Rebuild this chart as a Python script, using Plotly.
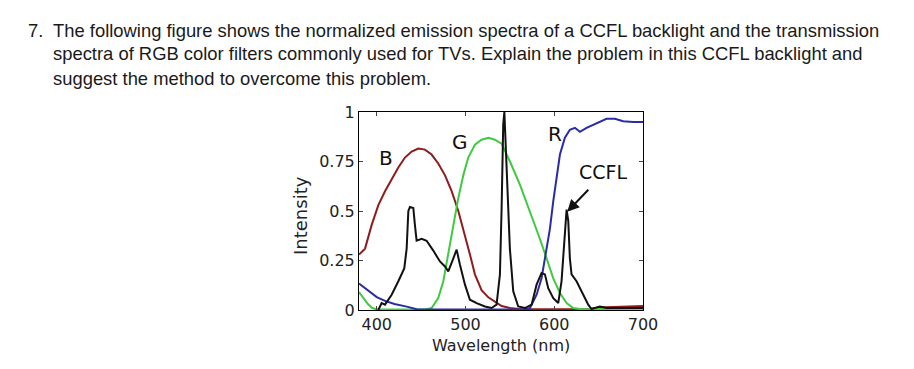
import plotly.graph_objects as go

# ---------------- data ----------------
b_filter_x = [380, 386.8, 394.3, 401.8, 409.3, 416.8, 424.3, 431.8, 439.3, 446.8, 454.3, 461.8,
              469.3, 476.9, 484.4, 491.9, 499.4, 505, 510.6, 518.1, 525.7, 533.2, 540.7, 550,
              560, 580, 600, 620, 640, 650, 660, 680, 700]
b_filter_y = [0.28, 0.31, 0.43, 0.53, 0.60, 0.66, 0.72, 0.77, 0.80, 0.815, 0.81, 0.785,
              0.74, 0.68, 0.60, 0.50, 0.38, 0.28, 0.18, 0.10, 0.064, 0.04, 0.02, 0.01,
              0.005, 0.004, 0.004, 0.004, 0.005, 0.012, 0.014, 0.016, 0.02]

g_filter_x = [380, 385, 390, 395, 400, 440, 455, 461.8, 469.3, 475, 480.6, 486.2, 491.9, 497.5,
              503.1, 510.6, 518.1, 525.7, 533.2, 540.7, 550.1, 561.3, 572.6, 583.8, 591.4,
              598.9, 606.4, 613.9, 621.4, 630, 650, 700]
g_filter_y = [0.09, 0.06, 0.03, 0.01, 0.003, 0.002, 0.003, 0.01, 0.06, 0.145, 0.28, 0.43, 0.566,
              0.68, 0.77, 0.835, 0.86, 0.87, 0.86, 0.84, 0.75, 0.633, 0.50, 0.36, 0.26,
              0.16, 0.086, 0.035, 0.01, 0.004, 0.005, 0.006]

r_filter_x = [380, 390, 400, 410, 420, 433.8, 445, 500, 565, 572.6, 580.1, 585.7, 591.4, 595.1,
              598.9, 602.6, 606.4, 612, 617.6, 623.3, 628.9, 636.4, 647.7, 658.9, 668.3,
              677.7, 689, 700]
r_filter_y = [0.134, 0.10, 0.065, 0.045, 0.03, 0.017, 0.004, 0.002, 0.002, 0.01, 0.077, 0.16,
              0.30, 0.41, 0.55, 0.68, 0.785, 0.87, 0.91, 0.92, 0.90, 0.92, 0.944, 0.966,
              0.966, 0.953, 0.95, 0.95]

ccfl_x = [401.8, 405.5, 409.3, 416.8, 424.3, 431, 433.7, 435.6, 437.4, 441.2, 443, 444.9,
          450.6, 456.2, 463.7, 471.2, 476.9, 480.6, 486.2, 490, 493.7, 499.4, 505, 512.5,
          521.9, 529.4, 535, 538.8, 540.7, 542.5, 543.8, 546.3, 550, 553.8, 559.4, 567,
          574.5, 580.1, 585.7, 589.5, 593.2, 598.9, 604.5, 608.2, 612, 613.9, 615.8,
          617.6, 619.5, 625.1, 632.7, 638.3, 642, 651.4, 659, 680, 700]
ccfl_y = [0.0, 0.035, 0.027, 0.077, 0.145, 0.21, 0.31, 0.50, 0.52, 0.515, 0.43, 0.35,
          0.36, 0.35, 0.30, 0.245, 0.22, 0.195, 0.26, 0.305, 0.23, 0.128, 0.052, 0.035,
          0.018, 0.01, 0.027, 0.18, 0.515, 0.936, 1.0, 0.68, 0.31, 0.094, 0.018, 0.01,
          0.027, 0.128, 0.187, 0.18, 0.11, 0.06, 0.035, 0.145, 0.38, 0.507, 0.45,
          0.26, 0.18, 0.145, 0.077, 0.027, 0.005, 0.018, 0.01, 0.01, 0.01]

x_ticks = [400, 500, 600, 700]
y_ticks = [0, 0.25, 0.5, 0.75, 1]
y_tick_labels = ["0", "0.25", "0.5", "0.75", "1"]

question_number = "7."
question_lines = [
    "The following figure shows the normalized emission spectra of a CCFL backlight and the transmission",
    "spectra of RGB color filters commonly used for TVs. Explain the problem in this CCFL backlight and",
    "suggest the method to overcome this problem.",
]

# ---------------- figure ----------------
W, H = 914, 369
L, R, T, B = 359, 271, 112, 59
PW, PH = W - L - R, H - T - B

fig = go.Figure()
fig.add_trace(go.Scatter(x=b_filter_x, y=b_filter_y, mode="lines",
                         line=dict(color="#8e1c1c", width=2), hoverinfo="skip"))
fig.add_trace(go.Scatter(x=g_filter_x, y=g_filter_y, mode="lines",
                         line=dict(color="#3fca3f", width=2), hoverinfo="skip"))
fig.add_trace(go.Scatter(x=r_filter_x, y=r_filter_y, mode="lines",
                         line=dict(color="#2b2ba6", width=2), hoverinfo="skip"))
fig.add_trace(go.Scatter(x=ccfl_x, y=ccfl_y, mode="lines",
                         line=dict(color="#111111", width=2), hoverinfo="skip"))


def px_x(p):
    return (p - L) / PW


def px_y(p):
    return (H - B - p) / PH


txt_font = dict(family="Liberation Sans, Arial, sans-serif", size=18.4, color="#1a1a1a")
fig.add_annotation(xref="paper", yref="paper", x=px_x(26), y=px_y(30), xanchor="left",
                   yanchor="middle", text=question_number, showarrow=False, font=txt_font)
for i, line in enumerate(question_lines):
    fig.add_annotation(xref="paper", yref="paper", x=px_x(51), y=px_y(30 + 24 * i),
                       xanchor="left", yanchor="middle", text=line, showarrow=False,
                       font=txt_font)

fig_family = "DejaVu Sans, Arial, sans-serif"
lab_font = dict(family=fig_family, size=20, color="#111111")
fig.add_annotation(x=410.4, y=0.77, text="B", showarrow=False, font=lab_font)
fig.add_annotation(x=493.7, y=0.85, text="G", showarrow=False, font=lab_font)
fig.add_annotation(x=600.7, y=0.89, text="R", showarrow=False, font=lab_font)
fig.add_annotation(x=654.4, y=0.695, text="CCFL", showarrow=False,
                   font=dict(family=fig_family, size=19, color="#111111"))
fig.add_annotation(x=614.6, y=0.496, ax=640, ay=0.615, axref="x", ayref="y", text="",
                   showarrow=True, arrowhead=2, arrowsize=1.2, arrowwidth=2, arrowcolor="#111111")

axis_font = dict(family=fig_family, size=16, color="#222222")
# axis titles placed as annotations for exact position
fig.add_annotation(xref="paper", yref="paper", x=px_x(501), y=px_y(345), text="Wavelength (nm)",
                   showarrow=False, font=axis_font, xanchor="center", yanchor="middle")
fig.add_annotation(xref="paper", yref="paper", x=px_x(300), y=px_y(216), text="Intensity",
                   showarrow=False, textangle=-90, xanchor="center", yanchor="middle",
                   font=dict(family=fig_family, size=18, color="#222222"))

fig.update_xaxes(range=[380, 700], tickvals=x_ticks, ticks="inside", ticklen=4,
                 showline=True, linecolor="black", linewidth=1, mirror="ticks",
                 showgrid=False, zeroline=False, tickfont=axis_font)
fig.update_yaxes(range=[0, 1], tickvals=y_ticks, ticktext=y_tick_labels, ticks="inside",
                 ticklen=4, showline=True, linecolor="black", linewidth=1, mirror="ticks",
                 showgrid=False, zeroline=False, tickfont=axis_font)
fig.update_layout(width=W, height=H, margin=dict(l=L, r=R, t=T, b=B, autoexpand=False),
                  paper_bgcolor="white", plot_bgcolor="white", showlegend=False)

fig.write_html("out.html", config={"displayModeBar": False},
               post_script="document.body.style.margin='0px';")
